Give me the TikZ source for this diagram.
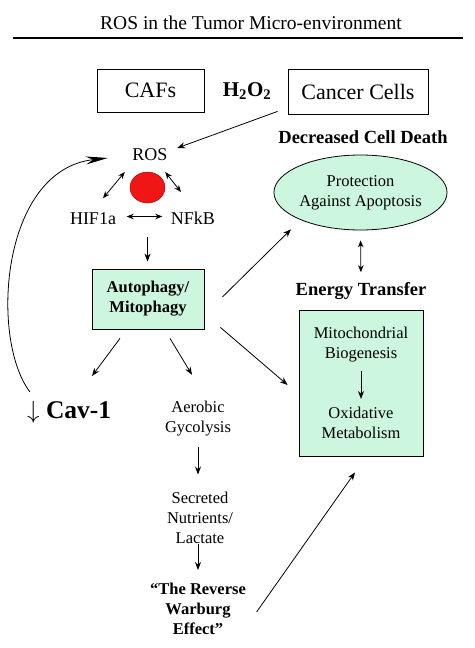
\documentclass[tikz,border=0pt]{standalone}
\usepackage{fontspec}
\setmainfont{Liberation Serif}
\usetikzlibrary{arrows.meta, calc, shapes.geometric}
\definecolor{mint}{RGB}{204,247,222}
\definecolor{rosred}{RGB}{240,22,22}

\begin{document}
\begin{tikzpicture}[x=1pt, y=-1pt,
  arr/.style={-{Stealth[length=8pt,width=6pt]}, line width=0.8pt},
  dbl/.style={{Stealth[length=7pt,width=5.5pt]}-{Stealth[length=7pt,width=5.5pt]}, line width=0.8pt},
  body/.style={align=center, inner sep=0pt, font=\fontsize{16.5}{20}\selectfont},
  bodybf/.style={body, font=\fontsize{16.5}{20}\selectfont\bfseries},
  cellbox/.style={draw, line width=0.8pt, font=\fontsize{22}{24}\selectfont},
  greenbox/.style={draw, fill=mint, line width=0.8pt}]
\useasboundingbox (0,0) rectangle (474,648);
% header
\node[inner sep=0pt, font=\fontsize{19.5}{22}\selectfont] (title) at (251,23) {ROS in the Tumor Micro-environment};
\draw[line width=2pt] (13,38) -- (463,38);
\node[cellbox, minimum width=107pt, minimum height=43pt] (cafs) at (150.5,90.5) {CAFs};
\node[inner sep=0pt, font=\fontsize{21}{24}\selectfont\bfseries] (htwo) at (247,91) {H\textsubscript{2}O\textsubscript{2}};
\node[cellbox, minimum width=140pt, minimum height=45pt] (cancer) at (358,91.5) {Cancer Cells};
% left column
\node[inner sep=0pt, font=\fontsize{18}{20}\selectfont] (ros) at (150,155) {ROS};
\node[ellipse, fill=rosred, draw=red!60!black, minimum width=35pt, minimum height=31pt, inner sep=0pt] (ball) at (147.5,187.5) {};
\node[inner sep=0pt, font=\fontsize{18}{20}\selectfont] (hif) at (93,218.5) {HIF1a};
\node[inner sep=0pt, font=\fontsize{18}{20}\selectfont] (nfkb) at (193,218.5) {NFkB};
\node[greenbox, minimum width=112pt, minimum height=60pt, bodybf] (auto) at (148,299) {Autophagy/\\Mitophagy};
\node[anchor=west, inner sep=0pt, font=\fontsize{25.5}{28}\selectfont\bfseries] (cav) at (27,412) {$\downarrow$ Cav-1};
\node[body] (aero) at (198,418.5) {Aerobic\\Gycolysis};
\node[body] (secr) at (200,517.5) {Secreted\\Nutrients/\\Lactate};
\node[bodybf] (warb) at (198,609) {``The Reverse\\Warburg\\Effect''};
% right column
\node[inner sep=0pt, font=\fontsize{18.5}{20}\selectfont\bfseries] (death) at (363,137) {Decreased Cell Death};
\node[greenbox, ellipse, minimum width=169pt, minimum height=75pt, body] (protect) at (360.5,192.5) {Protection\\Against Apoptosis};
\node[inner sep=0pt, font=\fontsize{18.5}{20}\selectfont\bfseries] (energy) at (361,291) {Energy Transfer};
\node[greenbox, minimum width=124pt, minimum height=146pt] (mito) at (361,383) {};
\node[body] (biogen) at (361,345) {Mitochondrial\\Biogenesis};
\node[body] (oxid) at (361,423) {Oxidative\\Metabolism};
% connectors
\draw[arr] ($(cancer.south west)+(-10,-3)$) -- ($(ros.east)+(9.5,-7)$);
\draw[line width=0.8pt, -{Stealth[length=22pt,width=8pt]}] ($(cav.west)+(3,-20)$) .. controls (-10,340) and (0,170) .. ($(ros.west)+(-24.5,3)$);
\draw[dbl] ($(hif.north)+(10,-14)$) -- ($(ball.west)+(-5,-15.5)$);
\draw[dbl] ($(ball.east)+(0,-15.5)$) -- ($(nfkb.north)+(-12,-20)$);
\draw[dbl] ($(hif.east)+(10.5,-2)$) -- ($(nfkb.west)+(-8.5,-2)$);
\draw[arr, shorten <=34pt, shorten >=7pt] (ball.south) -- (ball.south |- auto.north);
\draw[arr] ($(auto.south)+(-28,9)$) -- ($(cav.west)+(65,-36)$);
\draw[arr] ($(auto.south)+(22,9)$) -- ($(aero.north)+(-6,-26)$);
\draw[arr] ($(auto.south east)+(16,-2)$) -- ($(mito.west)+(-11,2)$);
\draw[arr] ($(auto.east)+(18,-2)$) -- ($(protect.south west)+(-8,10)$);
\draw[dbl, shorten <=10pt, shorten >=10pt] (protect.south) -- (energy.north);
\draw[arr, shorten <=8pt, shorten >=8pt] (biogen.south) -- (oxid.north);
\draw[arr, shorten <=11pt, shorten >=17pt] (aero.south) -- (aero.south |- secr.north);
\draw[arr, shorten <=0pt, shorten >=13pt] (secr.south -| warb.north) -- (warb.north);
\draw[arr] ($(warb.east)+(10.5,3)$) -- ($(mito.south)+(-6,16)$);
\end{tikzpicture}
\end{document}
